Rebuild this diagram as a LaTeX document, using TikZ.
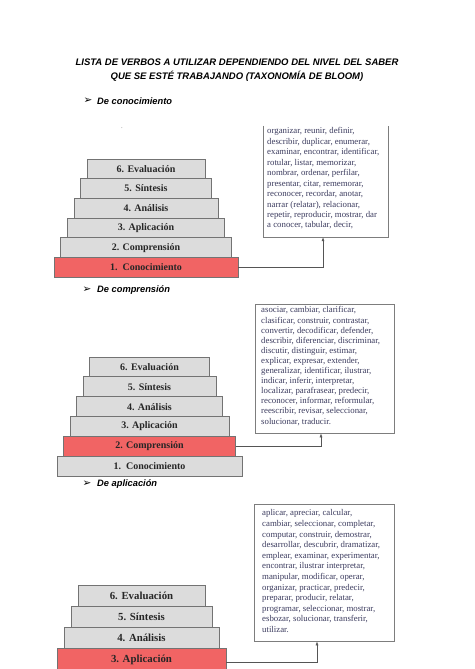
\documentclass[tikz,border=0pt]{standalone}
\usepackage{fontspec}
\setmainfont{Liberation Serif}
\newfontfamily\arialf{Liberation Sans}
\newfontfamily\dejavuf{DejaVu Sans}
\usetikzlibrary{arrows.meta}
\definecolor{lvlgray}{RGB}{220,220,220}
\definecolor{lvlred}{RGB}{241,100,100}
\definecolor{lvlline}{RGB}{115,115,115}
\definecolor{vblue}{RGB}{60,60,95}
\definecolor{boxline}{RGB}{125,125,125}
\definecolor{arrline}{RGB}{85,85,85}
\begin{document}
\begin{tikzpicture}[x=1pt,y=-1pt,
  ttl/.style={inner sep=0, font=\arialf\bfseries\itshape\fontsize{9.5}{11}\selectfont},
  hd/.style={inner sep=0, anchor=west, font=\arialf\bfseries\itshape\fontsize{9.3}{11}\selectfont},
  bul/.style={inner sep=0, font=\dejavuf\fontsize{10.5}{12}\selectfont},
  lvl/.style={draw=lvlline, line width=0.7pt, fill=lvlgray, inner sep=0, text=black!85,
    font=\bfseries\fontsize{10}{12}\selectfont},
  lvlA/.style={lvl, minimum height=19.7},
  lvlB/.style={lvl, minimum height=19.83},
  lvlC/.style={lvl, minimum height=21, font=\bfseries\fontsize{10.8}{12}\selectfont},
  hi/.style={fill=lvlred},
  frame/.style={draw=boxline, line width=0.8pt, inner sep=0},
  vtext/.style={anchor=north west, inner sep=0, align=left, text=vblue},
  arr/.style={draw=arrline, line width=0.6pt, -{Latex[length=4pt,width=3pt]}}
]
\useasboundingbox (0,0) rectangle (474,669);
\fill[white] (0,0) rectangle (474,669);

% title
\node[ttl] (title1) at (237,62) {LISTA DE VERBOS A UTILIZAR DEPENDIENDO DEL NIVEL DEL SABER};
\node[ttl] (title2) at (237,76) {QUE SE ESTÉ TRABAJANDO (TAXONOMÍA DE BLOOM)};

% ---------- section 1
\node[bul] (bu1) at (88,101) {➢};
\node[hd] (h1) at (97,101) {De conocimiento};
\node[inner sep=0, font=\tiny] (dot) at (122,128) {.};

\node[lvlA, hi, minimum width=184] (a1) at (146,267.35) {1.\ \ Conocimiento};
\node[lvlA, minimum width=171] (a2) at (146,247.65) {2. Comprensión};
\node[lvlA, minimum width=157] (a3) at (146,227.95) {3. Aplicación};
\node[lvlA, minimum width=144] (a4) at (146,208.25) {4. Análisis};
\node[lvlA, minimum width=131] (a5) at (146,188.55) {5. Síntesis};
\node[lvlA, minimum width=118] (a6) at (146,168.85) {6. Evaluación};

\node[inner sep=0, minimum width=124, minimum height=111] (f1) at (326,181.5) {};
\draw[boxline, line width=0.8pt] (f1.north west) -- (f1.south west) -- (f1.south east) -- (f1.north east);
\node[vtext, font=\fontsize{8.8}{10.45}\selectfont] (t1) at (267,127.5) {%
organizar, reunir, definir,\\
describir, duplicar, enumerar,\\
examinar, encontrar, identificar,\\
rotular, listar, memorizar,\\
nombrar, ordenar, perfilar,\\
presentar, citar, rememorar,\\
reconocer, recordar, anotar,\\
narrar (relatar), relacionar,\\
repetir, reproducir, mostrar, dar\\
a conocer, tabular, decir,};
\draw[arr] (a1.east) -| ([xshift=-3]f1.south);

% ---------- section 2
\node[bul] (bu2) at (87,290) {➢};
\node[hd] (h2) at (97,290) {De comprensión};

\node[lvlB, minimum width=185] (b1) at (149.5,466.1) {1.\ \ Conocimiento};
\node[lvlB, hi, minimum width=172] (b2) at (149.5,446.25) {2. Comprensión};
\node[lvlB, minimum width=159] (b3) at (149.5,426.4) {3. Aplicación};
\node[lvlB, minimum width=146] (b4) at (149.5,406.6) {4. Análisis};
\node[lvlB, minimum width=133] (b5) at (149.5,386.75) {5. Síntesis};
\node[lvlB, minimum width=120] (b6) at (149.5,366.9) {6. Evaluación};

\node[frame, minimum width=139, minimum height=129] (f2) at (324.5,368.5) {};
\node[vtext, font=\fontsize{8.8}{10.1}\selectfont] (t2) at (261,306.5) {%
asociar, cambiar, clarificar,\\
clasificar, construir, contrastar,\\
convertir, decodificar, defender,\\
describir, diferenciar, discriminar,\\
discutir, distinguir, estimar,\\
explicar, expresar, extender,\\
generalizar, identificar, ilustrar,\\
indicar, inferir, interpretar,\\
localizar, parafrasear, predecir,\\
reconocer, informar, reformular,\\
reescribir, revisar, seleccionar,\\
solucionar, traducir.};
\draw[arr] (b2.east) -| ([xshift=-3.5]f2.south);

% ---------- section 3
\node[bul] (bu3) at (87,484) {➢};
\node[hd] (h3) at (97,484) {De aplicación};

\node[lvlC, hi, minimum width=169, minimum height=23] (c3) at (141.5,659.5) {3. Aplicación};
\node[lvlC, minimum width=155] (c4) at (141.5,637.5) {4. Análisis};
\node[lvlC, minimum width=141] (c5) at (141.5,616.5) {5. Síntesis};
\node[lvlC, minimum width=127] (c6) at (141.5,595.5) {6. Evaluación};

\node[frame, minimum width=140, minimum height=137] (f3) at (324,572.5) {};
\node[vtext, font=\fontsize{8.8}{10.6}\selectfont] (t3) at (262,509.5) {%
aplicar, apreciar, calcular,\\
cambiar, seleccionar, completar,\\
computar, construir, demostrar,\\
desarrollar, descubrir, dramatizar,\\
emplear, examinar, experimentar,\\
encontrar, ilustrar interpretar,\\
manipular, modificar, operar,\\
organizar, practicar, predecir,\\
preparar, producir, relatar,\\
programar, seleccionar, mostrar,\\
esbozar, solucionar, transferir,\\
utilizar.};
\draw[arr] ([yshift=-2.5]c3.east) -| ([xshift=-7]f3.south);
\end{tikzpicture}
\end{document}
